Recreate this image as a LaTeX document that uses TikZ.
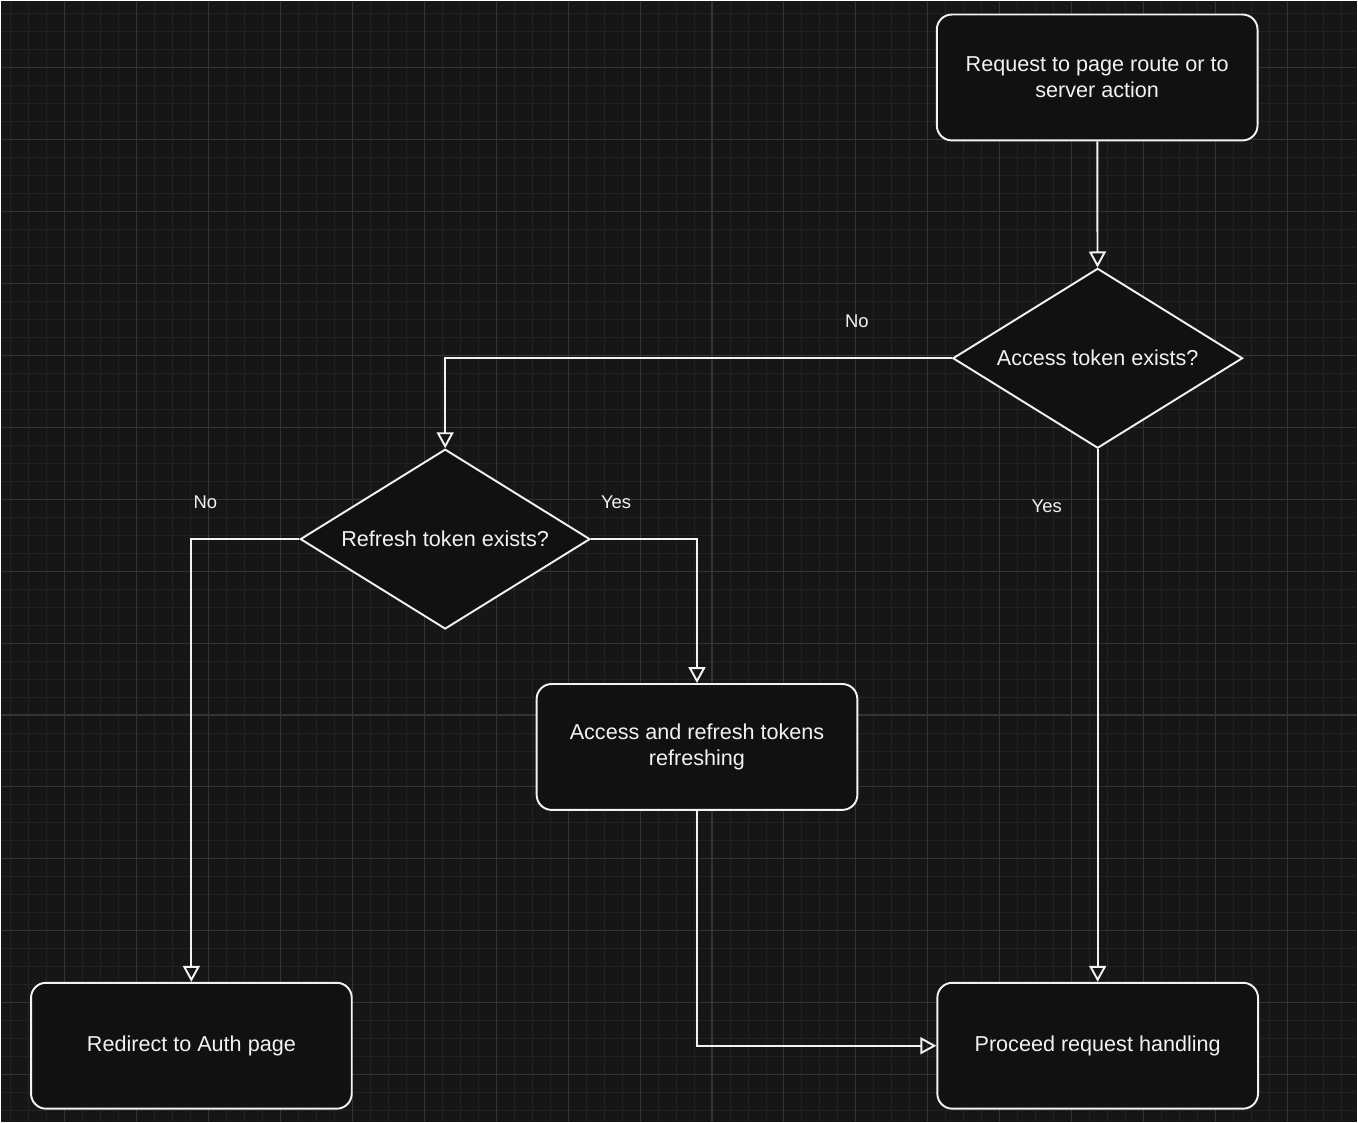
\documentclass[tikz,border=0pt]{standalone}
\usepackage{fontspec}
\setmainfont{Liberation Sans}
\usetikzlibrary{shapes.geometric,arrows.meta}
\definecolor{canvas}{HTML}{161616}
\definecolor{boxfill}{HTML}{111111}
\definecolor{gridminor}{HTML}{222222}
\definecolor{gridmajor}{HTML}{343434}
\definecolor{ink}{HTML}{F2F2F2}
\newcommand{\nodefont}{\fontsize{12.3}{14.7}\selectfont}
\newcommand{\lblfont}{\fontsize{10.5}{12}\selectfont}
\tikzset{
  stepbox/.style={rectangle, rounded corners=0.3cm, draw=ink, fill=boxfill, text=ink,
                  align=center, minimum width=6.42cm, minimum height=2.52cm,
                  line width=1.1pt, font=\nodefont},
  decision/.style={diamond, aspect=1.6, inner sep=0pt, draw=ink, fill=boxfill, text=ink,
                   minimum width=5.8cm, minimum height=3.6cm, line width=1.1pt, font=\nodefont},
  flow/.style={-{Triangle[open, length=0.32cm, width=0.34cm]}, line width=1.1pt, draw=ink},
  lbl/.style={text=ink, font=\lblfont},
  minorline/.style={draw=gridminor, line width=0.5pt},
  majorline/.style={draw=gridmajor, line width=0.6pt},
}

\begin{document}
\begin{tikzpicture}[x=0.02cm, y=-0.02cm]
  \fill[canvas] (0,0) rectangle (1358,1122);
  \foreach \gx in {10,28,...,1358} \draw[minorline] (\gx,0) -- (\gx,1122);
  \foreach \gy in {13,31,...,1122} \draw[minorline] (0,\gy) -- (1358,\gy);
  \foreach \gx in {64,136,...,1358} \draw[majorline] (\gx,0) -- (\gx,1122);
  \foreach \gy in {67,139,...,1122} \draw[majorline] (0,\gy) -- (1358,\gy);

  \node[stepbox] (request) at (1097.5,77) {Request to page route or to\\server action};
  \node[decision] (access) at (1098,358) {Access token exists?};
  \node[decision] (refresh) at (445,539) {Refresh token exists?};
  \node[stepbox] (renew) at (697,747) {Access and refresh tokens\\refreshing};
  \node[stepbox] (redirect) at (191,1046) {Redirect to Auth page};
  \node[stepbox] (proceed) at (1098,1046) {Proceed request handling};

  \draw[flow] (request) -- (access);
  \draw[flow] (access.west) -| (refresh.north);
  \draw[flow] (access) -- (proceed);
  \draw[flow] (refresh.west) -| (redirect.north);
  \draw[flow] (refresh.east) -| (renew.north);
  \draw[flow] (renew.south) |- (proceed.west);

  \node[lbl] (noaccess) at (857,321) {No};
  \node[lbl] (yesaccess) at (1047,506) {Yes};
  \node[lbl] (norefresh) at (205,502) {No};
  \node[lbl] (yesrefresh) at (616,502) {Yes};
\end{tikzpicture}
\end{document}
